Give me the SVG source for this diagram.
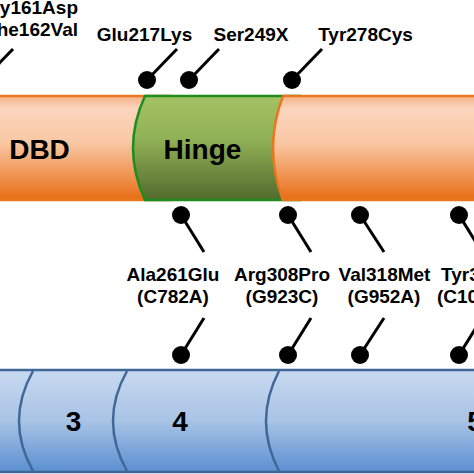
<svg xmlns="http://www.w3.org/2000/svg" width="474" height="474" viewBox="0 0 474 474">
<defs>
<linearGradient id="gOrange" x1="0" y1="0" x2="0" y2="1">
<stop offset="0" stop-color="#f4b085"/>
<stop offset="0.12" stop-color="#fbd6bd"/>
<stop offset="0.45" stop-color="#f9c7a4"/>
<stop offset="1" stop-color="#e86d14"/>
</linearGradient>
<linearGradient id="gGreen" x1="0" y1="0" x2="0" y2="1">
<stop offset="0" stop-color="#a2c262"/>
<stop offset="0.4" stop-color="#92b257"/>
<stop offset="1" stop-color="#526b2d"/>
</linearGradient>
<linearGradient id="gBlue" x1="0" y1="0" x2="0" y2="1">
<stop offset="0" stop-color="#c8d9ef"/>
<stop offset="0.5" stop-color="#a8c3e5"/>
<stop offset="1" stop-color="#5a8fd2"/>
</linearGradient>
</defs>
<style>
.lbl{font-family:"Liberation Sans",Arial,sans-serif;font-weight:bold;font-size:19px;fill:#000}
.big{font-family:"Liberation Sans",Arial,sans-serif;font-weight:bold;font-size:28px;fill:#000}
.pin line{stroke:#000;stroke-width:3;stroke-linecap:butt}
.pin circle{fill:#000}
.orange{fill:url(#gOrange);stroke:#e8771f;stroke-width:2.5}
.green{fill:url(#gGreen);stroke:#1f8c1f;stroke-width:2.5}
.blue{fill:url(#gBlue);stroke:#3f6898;stroke-width:2.5}
.div{fill:none;stroke:#3f6898;stroke-width:2.5}
</style>

<g id="protein">
<g id="seg-dbd">
<rect class="orange" x="-20" y="96" width="190" height="104"/>
<text class="big" x="39.5" y="159" text-anchor="middle">DBD</text>
</g>
<g id="seg-hinge">
<path class="green" d="M145,96 L300,96 L300,200 L145,200 Q121,148 145,96 Z"/>
<text class="big" x="202.5" y="159" text-anchor="middle">Hinge</text>
</g>
<g id="seg-right">
<path class="orange" d="M283,96 L500,96 L500,200 L283,200 Q263,148 283,96 Z"/>
</g>
</g>

<g id="exons">
<g id="exon-bar">
<rect class="blue" x="-10" y="370" width="500" height="102"/>
</g>
<g id="exon-3">
<path class="div" d="M33,371 Q5,421 33,471"/>
<text class="big" x="73.5" y="431" text-anchor="middle">3</text>
</g>
<g id="exon-4">
<path class="div" d="M127,371 Q99,421 127,471"/>
<text class="big" x="180" y="431" text-anchor="middle">4</text>
</g>
<g id="exon-5">
<path class="div" d="M279,371 Q253,421 279,471"/>
<text class="big" x="475" y="431" text-anchor="middle">5</text>
</g>
</g>

<g id="connectors" class="pin">
<line x1="-17" y1="80" x2="13" y2="49"/><circle cx="-17" cy="80" r="9"/>
<line x1="147" y1="80" x2="177" y2="49"/><circle cx="147" cy="80" r="9"/>
<line x1="189" y1="80" x2="219" y2="49"/><circle cx="189" cy="80" r="9"/>
<line x1="292" y1="80" x2="322" y2="49"/><circle cx="292" cy="80" r="9"/>

<line x1="181" y1="215" x2="204" y2="252"/><circle cx="181" cy="215" r="9"/>
<line x1="288" y1="215" x2="311" y2="252"/><circle cx="288" cy="215" r="9"/>
<line x1="360" y1="215" x2="384" y2="252"/><circle cx="360" cy="215" r="9"/>
<line x1="459" y1="215" x2="482" y2="252"/><circle cx="459" cy="215" r="9"/>

<line x1="181" y1="355" x2="204" y2="318"/><circle cx="181" cy="355" r="9"/>
<line x1="288" y1="355" x2="311" y2="318"/><circle cx="288" cy="355" r="9"/>
<line x1="360" y1="355" x2="384" y2="318"/><circle cx="360" cy="355" r="9"/>
<line x1="459" y1="355" x2="482" y2="318"/><circle cx="459" cy="355" r="9"/>
</g>

<g id="labels">
<text class="lbl" x="78" y="14" text-anchor="end">Gly161Asp</text>
<text class="lbl" x="78" y="36" text-anchor="end">Phe162Val</text>
<text class="lbl" x="144.5" y="41" text-anchor="middle">Glu217Lys</text>
<text class="lbl" x="251" y="41" text-anchor="middle">Ser249X</text>
<text class="lbl" x="365.5" y="41" text-anchor="middle">Tyr278Cys</text>

<text class="lbl" x="173" y="281" text-anchor="middle">Ala261Glu</text>
<text class="lbl" x="173" y="303" text-anchor="middle">(C782A)</text>
<text class="lbl" x="282" y="281" text-anchor="middle">Arg308Pro</text>
<text class="lbl" x="282" y="303" text-anchor="middle">(G923C)</text>
<text class="lbl" x="384.5" y="281" text-anchor="middle">Val318Met</text>
<text class="lbl" x="384" y="303" text-anchor="middle">(G952A)</text>
<text class="lbl" x="441" y="281">Tyr3</text>
<text class="lbl" x="437" y="303">(C10</text>
</g>
</svg>
